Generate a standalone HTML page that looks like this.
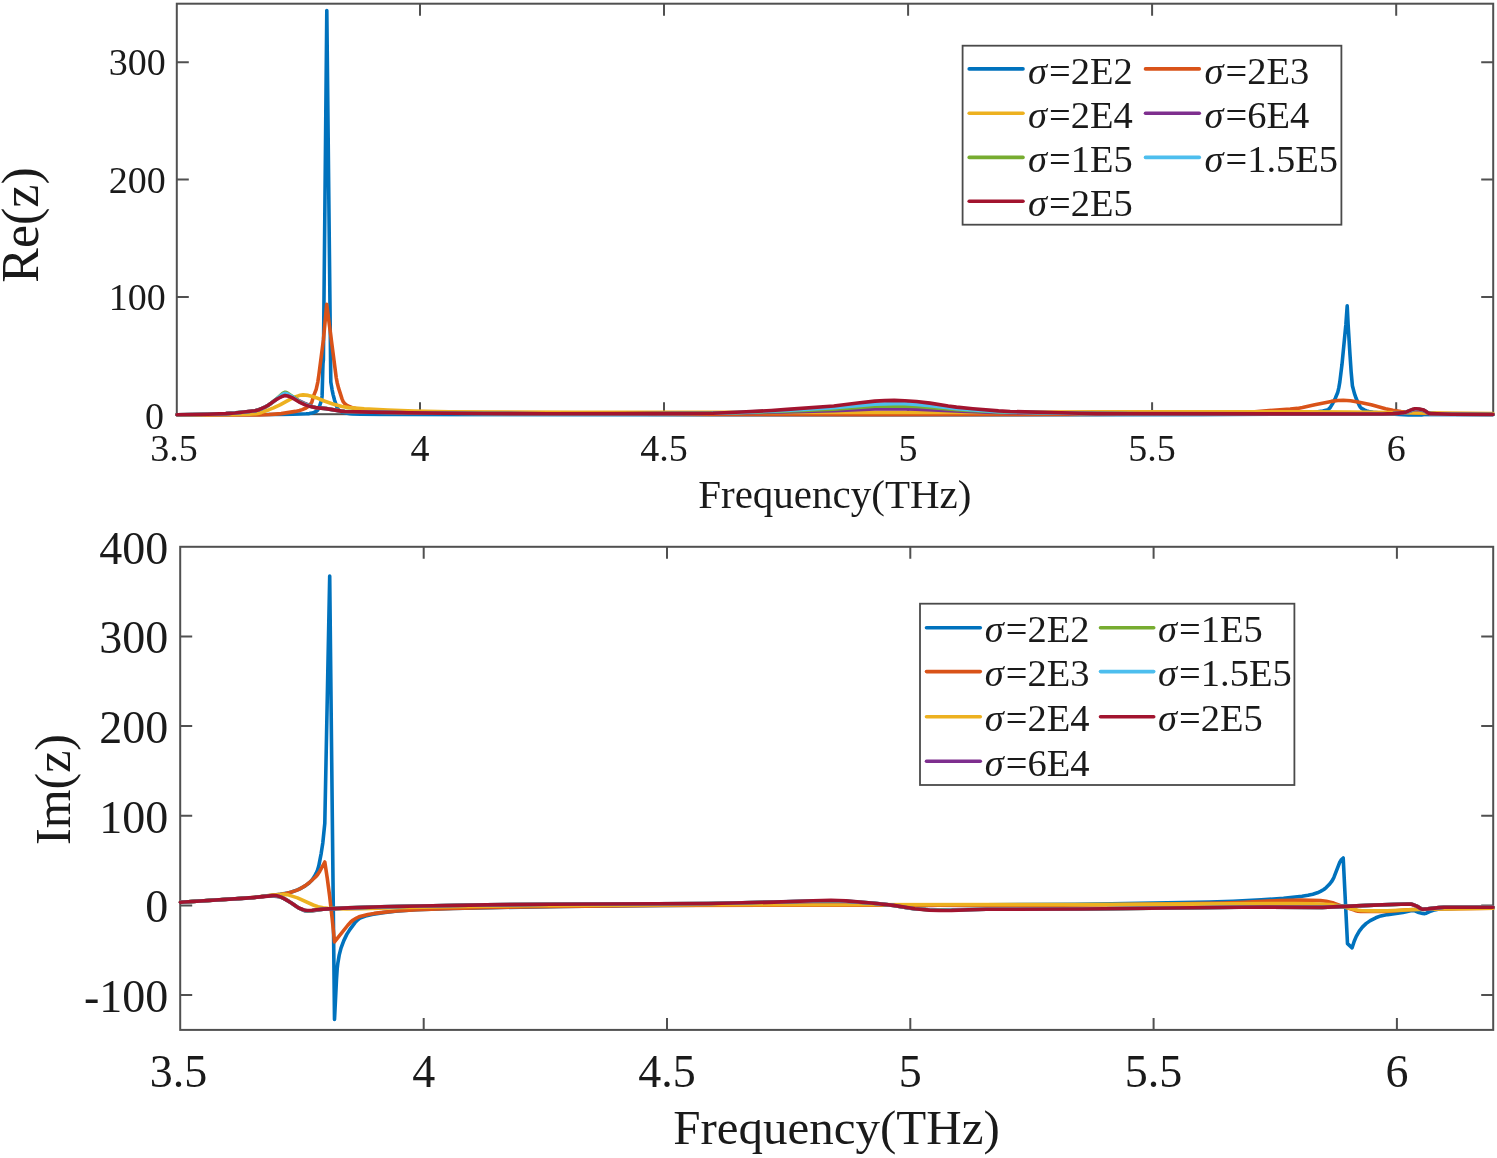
<!DOCTYPE html>
<html><head><meta charset="utf-8"><style>
html,body{margin:0;padding:0;background:#fff;}
svg{display:block;}
#w{}
text{font-family:"Liberation Serif","Times New Roman",serif;fill:#1a1a1a;}
</style></head><body>
<div id="w"><svg width="1497" height="1158" viewBox="0 0 1497 1158">
<rect width="1497" height="1158" fill="#fff"/>
<rect x="176.8" y="3.7" width="1316.4" height="410.5" fill="none" stroke="#505050" stroke-width="2.0"/>
<path d="M420.0 414.2V402.2M420.0 3.7V15.7M664.0 414.2V402.2M664.0 3.7V15.7M908.1 414.2V402.2M908.1 3.7V15.7M1152.1 414.2V402.2M1152.1 3.7V15.7M1396.2 414.2V402.2M1396.2 3.7V15.7M176.8 296.9H188.8M1493.2 296.9H1481.2M176.8 179.6H188.8M1493.2 179.6H1481.2M176.8 62.3H188.8M1493.2 62.3H1481.2" stroke="#505050" stroke-width="2.0" fill="none"/>
<clipPath id="ct"><rect x="174.3" y="1.2" width="1321.4" height="415.5"/></clipPath>
<g clip-path="url(#ct)">
<polyline points="177.0,414.8 283.2,414.5 293.0,414.3 306.2,413.8 309.2,413.6 311.8,413.1 314.0,412.4 316.2,411.3 317.0,410.9 317.8,410.0 319.5,406.3 321.5,400.3 322.1,395.9 322.8,369.2 323.0,363.6 323.4,359.7 326.8,10.5 330.8,382.0 332.1,389.8 333.1,394.6 334.6,400.2 336.6,406.2 337.6,408.6 338.3,409.6 339.8,410.9 341.6,411.7 345.8,413.0 349.8,413.7 352.8,414.0 360.3,414.2 379.8,414.5 457.6,414.7 876.5,415.0 1202.5,414.8 1271.8,414.3 1300.3,413.8 1307.3,413.3 1322.8,411.0 1326.0,410.3 1328.5,409.3 1330.3,407.4 1332.3,404.1 1335.3,398.3 1337.8,392.2 1338.8,387.9 1339.8,382.1 1342.0,364.3 1345.9,324.2 1347.2,305.8 1348.1,324.2 1350.0,354.9 1351.2,372.5 1352.4,385.7 1354.4,393.4 1356.2,398.6 1359.2,405.2 1360.4,407.2 1361.6,408.4 1364.2,409.9 1366.7,411.0 1368.9,411.6 1373.2,412.2 1380.9,413.1 1414.9,415.7 1418.7,415.8 1423.7,414.8 1430.7,414.7 1493.0,414.6" fill="none" stroke="#0072BD" stroke-width="3.60" stroke-linejoin="round" stroke-linecap="round"/>
<polyline points="177.0,414.8 208.0,415.2 250.5,415.3 258.8,415.1 268.8,414.6 281.2,413.6 295.5,411.4 299.5,410.5 302.2,409.6 306.0,408.0 308.2,406.6 310.2,404.6 311.8,402.2 313.6,395.9 316.2,389.3 317.8,382.1 319.0,374.1 323.4,340.0 326.7,304.2 336.2,377.5 337.2,382.7 338.5,387.9 342.0,398.9 343.2,401.7 344.5,403.3 346.5,405.0 349.2,406.5 352.2,407.7 355.8,408.6 361.5,409.6 367.8,410.3 378.5,411.1 390.8,411.7 426.8,412.7 473.0,413.2 546.5,413.7 739.2,414.6 864.2,414.9 1001.2,414.8 1121.0,414.3 1232.8,412.8 1248.8,412.3 1273.2,410.3 1290.2,409.1 1297.5,408.4 1302.5,407.5 1314.8,404.7 1331.2,401.4 1337.8,400.5 1343.2,400.2 1350.5,400.7 1359.2,402.2 1371.2,404.7 1385.5,408.7 1392.8,410.2 1401.0,411.6 1412.2,412.8 1419.5,413.3 1442.2,413.8 1493.0,414.2" fill="none" stroke="#D95319" stroke-width="3.60" stroke-linejoin="round" stroke-linecap="round"/>
<polyline points="177.0,414.8 234.8,414.6 249.2,414.2 256.2,413.8 258.8,413.2 261.5,412.4 269.0,409.7 273.5,407.9 280.0,404.8 290.0,399.3 295.8,396.7 299.0,395.6 301.5,395.1 303.1,394.9 308.2,395.4 311.5,396.2 316.2,397.7 324.2,401.0 332.8,404.0 342.0,406.5 348.8,407.6 364.2,408.9 387.8,410.1 414.2,411.1 448.8,411.9 576.0,412.4 1000.5,412.4 1096.2,411.9 1305.8,411.8 1348.8,412.1 1493.0,413.6" fill="none" stroke="#EDB120" stroke-width="3.60" stroke-linejoin="round" stroke-linecap="round"/>
<polyline points="177.0,414.8 207.2,414.3 225.8,413.6 235.2,413.0 255.2,410.8 257.8,410.1 261.2,408.8 266.0,406.6 269.0,404.7 279.0,397.6 283.0,395.2 284.0,394.7 285.0,394.6 287.2,395.0 291.5,396.6 298.8,400.5 304.2,403.1 312.2,406.5 314.0,407.1 316.0,407.5 325.8,408.5 341.2,411.1 344.8,411.5 358.5,411.9 407.2,412.8 477.2,413.5 543.5,413.8 621.8,413.7 708.0,413.3 784.2,412.0 833.8,410.7 875.0,409.0 894.5,408.7 915.8,409.1 961.2,411.3 994.2,412.4 1009.2,412.7 1101.0,413.6 1380.8,414.0 1391.8,413.7 1403.8,412.9 1406.5,412.3 1413.0,410.0 1416.1,409.5 1419.2,409.8 1423.8,410.7 1428.2,413.1 1430.0,413.6 1451.8,414.2 1493.0,414.5" fill="none" stroke="#7E2F8E" stroke-width="3.60" stroke-linejoin="round" stroke-linecap="round"/>
<polyline points="177.0,414.8 207.5,414.3 226.0,413.6 235.5,412.9 251.8,411.2 255.5,410.7 258.0,410.0 262.0,408.5 267.8,405.6 270.8,403.5 275.2,400.0 283.0,393.2 284.0,392.6 285.0,392.3 286.5,392.6 288.0,393.4 292.5,396.4 297.8,400.4 300.2,401.9 305.8,404.4 313.2,407.1 316.5,407.7 326.5,408.6 343.5,411.4 361.8,412.0 418.0,413.0 520.2,413.7 609.2,413.7 707.2,413.3 737.2,412.7 784.2,411.2 833.8,409.1 875.0,406.3 894.5,405.9 916.5,406.5 930.0,407.5 956.5,409.7 998.5,412.0 1081.2,413.4 1143.2,413.7 1382.5,414.0 1393.0,413.6 1404.0,412.7 1406.5,412.0 1413.0,409.5 1416.1,409.0 1419.2,409.3 1423.8,410.3 1425.0,410.9 1428.2,413.0 1430.0,413.6 1451.8,414.2 1493.0,414.5" fill="none" stroke="#77AC30" stroke-width="3.60" stroke-linejoin="round" stroke-linecap="round"/>
<polyline points="177.0,414.8 207.5,414.3 226.0,413.6 235.5,412.9 251.8,411.2 255.5,410.7 258.0,410.0 261.8,408.6 267.2,405.9 270.8,403.5 282.8,394.3 284.0,393.6 285.0,393.4 286.8,393.7 288.8,394.7 292.5,396.9 298.2,401.0 302.2,403.1 310.0,406.2 314.8,407.5 326.0,408.6 341.2,411.1 344.8,411.5 358.5,411.9 404.8,412.8 475.8,413.5 545.5,413.8 639.2,413.7 711.8,413.3 741.0,412.4 786.5,410.4 833.8,407.8 857.8,405.6 874.8,404.2 894.2,403.6 904.8,403.8 916.5,404.4 930.0,405.7 948.2,407.8 956.5,408.6 972.8,409.9 998.5,411.6 1009.8,412.0 1080.2,413.4 1137.5,413.7 1382.5,414.0 1393.0,413.6 1404.0,412.7 1406.5,412.0 1413.0,409.5 1416.1,409.0 1419.2,409.3 1423.8,410.3 1425.0,410.9 1428.2,413.0 1430.0,413.6 1451.8,414.2 1493.0,414.5" fill="none" stroke="#4DBEEE" stroke-width="3.60" stroke-linejoin="round" stroke-linecap="round"/>
<polyline points="177.0,414.8 207.2,414.3 225.5,413.6 235.0,413.0 255.0,410.8 259.0,409.7 264.8,407.2 268.2,405.2 274.0,401.1 278.0,398.5 282.8,396.2 285.0,395.6 287.8,396.0 292.0,397.6 298.8,401.8 305.2,404.9 310.5,406.6 314.8,407.6 326.0,408.6 341.2,411.1 344.8,411.5 358.8,411.9 409.2,412.9 483.5,413.5 550.0,413.8 651.2,413.6 713.0,413.2 741.5,412.0 771.2,410.5 787.2,409.4 833.8,406.0 857.8,403.0 874.8,401.1 884.8,400.6 894.2,400.4 904.8,400.7 916.5,401.5 930.0,403.1 948.2,406.0 956.5,407.1 972.8,408.7 998.5,410.9 1010.2,411.5 1079.2,413.3 1096.8,413.6 1131.0,413.7 1382.5,414.0 1393.0,413.6 1404.0,412.6 1406.5,411.9 1413.0,409.2 1414.8,408.8 1416.1,408.7 1419.2,409.0 1423.8,410.1 1425.0,410.8 1428.2,413.0 1430.0,413.6 1451.5,414.2 1493.0,414.5" fill="none" stroke="#A2142F" stroke-width="3.60" stroke-linejoin="round" stroke-linecap="round"/>
</g>
<text x="174.1" y="461" font-size="38" text-anchor="middle">3.5</text>
<text x="420.0" y="461" font-size="38" text-anchor="middle">4</text>
<text x="664.0" y="461" font-size="38" text-anchor="middle">4.5</text>
<text x="908.1" y="461" font-size="38" text-anchor="middle">5</text>
<text x="1152.1" y="461" font-size="38" text-anchor="middle">5.5</text>
<text x="1396.2" y="461" font-size="38" text-anchor="middle">6</text>
<text x="164.0" y="428.7" font-size="38" text-anchor="end">0</text>
<text x="165.8" y="310.0" font-size="38" text-anchor="end">100</text>
<text x="165.8" y="192.7" font-size="38" text-anchor="end">200</text>
<text x="165.8" y="75.4" font-size="38" text-anchor="end">300</text>
<text x="834.8" y="508" font-size="41" text-anchor="middle">Frequency(THz)</text>
<text transform="translate(38.3,225.0) rotate(-90)" font-size="52" text-anchor="middle">Re(z)</text>
<rect x="962.6" y="45.7" width="378.8" height="179.0" fill="#fff" stroke="#4a4a4a" stroke-width="1.8"/>
<line x1="969.2" y1="68.9" x2="1023.0" y2="68.9" stroke="#0072BD" stroke-width="3.6" stroke-linecap="round"/>
<text x="1028.1" y="83.5" font-size="38.5"><tspan font-style="italic">σ</tspan><tspan dx="2">=</tspan>2E2</text>
<line x1="1145.5" y1="68.9" x2="1199.3" y2="68.9" stroke="#D95319" stroke-width="3.6" stroke-linecap="round"/>
<text x="1204.5" y="83.5" font-size="38.5"><tspan font-style="italic">σ</tspan><tspan dx="2">=</tspan>2E3</text>
<line x1="969.2" y1="113.3" x2="1023.0" y2="113.3" stroke="#EDB120" stroke-width="3.6" stroke-linecap="round"/>
<text x="1028.1" y="127.9" font-size="38.5"><tspan font-style="italic">σ</tspan><tspan dx="2">=</tspan>2E4</text>
<line x1="1145.5" y1="113.3" x2="1199.3" y2="113.3" stroke="#7E2F8E" stroke-width="3.6" stroke-linecap="round"/>
<text x="1204.5" y="127.9" font-size="38.5"><tspan font-style="italic">σ</tspan><tspan dx="2">=</tspan>6E4</text>
<line x1="969.2" y1="157.4" x2="1023.0" y2="157.4" stroke="#77AC30" stroke-width="3.6" stroke-linecap="round"/>
<text x="1028.1" y="172.0" font-size="38.5"><tspan font-style="italic">σ</tspan><tspan dx="2">=</tspan>1E5</text>
<line x1="1145.5" y1="157.4" x2="1199.3" y2="157.4" stroke="#4DBEEE" stroke-width="3.6" stroke-linecap="round"/>
<text x="1204.5" y="172.0" font-size="38.5"><tspan font-style="italic">σ</tspan><tspan dx="2">=</tspan>1.5E5</text>
<line x1="969.2" y1="201.2" x2="1023.0" y2="201.2" stroke="#A2142F" stroke-width="3.6" stroke-linecap="round"/>
<text x="1028.1" y="215.8" font-size="38.5"><tspan font-style="italic">σ</tspan><tspan dx="2">=</tspan>2E5</text>
<rect x="180.2" y="546.8" width="1313.0" height="483.1" fill="none" stroke="#505050" stroke-width="2.0"/>
<path d="M423.7 1029.9V1017.9M423.7 546.8V558.8M667.0 1029.9V1017.9M667.0 546.8V558.8M910.3 1029.9V1017.9M910.3 546.8V558.8M1153.6 1029.9V1017.9M1153.6 546.8V558.8M1396.9 1029.9V1017.9M1396.9 546.8V558.8M180.2 995.0H192.2M1493.2 995.0H1481.2M180.2 905.4H192.2M1493.2 905.4H1481.2M180.2 815.8H192.2M1493.2 815.8H1481.2M180.2 726.1H192.2M1493.2 726.1H1481.2M180.2 636.5H192.2M1493.2 636.5H1481.2" stroke="#505050" stroke-width="2.0" fill="none"/>
<clipPath id="cb"><rect x="177.7" y="544.3" width="1318.0" height="488.1"/></clipPath>
<g clip-path="url(#cb)">
<polyline points="180.5,902.3 251.0,897.8 280.2,894.3 286.0,893.4 291.5,892.0 297.5,889.9 301.5,888.0 305.5,885.6 309.0,883.0 311.8,880.3 314.2,876.9 316.2,873.2 317.5,870.2 318.8,865.8 321.2,853.3 322.8,842.9 324.8,823.2 329.7,576.0 334.5,1019.5 336.5,979.2 337.2,968.6 337.8,963.5 339.2,955.1 341.0,948.1 343.8,940.6 346.8,934.4 349.8,929.6 355.0,922.6 357.8,919.7 360.0,918.1 365.5,916.0 372.0,914.4 383.2,912.6 395.5,911.2 405.2,910.4 415.8,909.8 453.0,908.4 491.2,907.6 563.8,906.5 631.5,905.7 698.2,905.3 985.2,904.8 1074.5,904.4 1111.2,903.9 1209.2,902.1 1233.0,901.3 1261.2,899.9 1283.5,898.3 1302.0,896.3 1308.0,895.3 1312.8,894.2 1317.4,892.8 1320.5,891.4 1323.8,889.5 1326.2,887.6 1329.2,884.6 1331.5,881.7 1333.0,879.3 1334.0,877.2 1339.8,862.2 1341.5,859.5 1343.2,858.0 1347.5,943.6 1352.1,947.8 1354.3,941.0 1356.3,936.4 1359.3,931.2 1362.6,926.9 1366.3,923.4 1370.3,920.6 1375.8,917.8 1380.8,915.9 1387.6,914.6 1402.9,912.5 1409.6,910.9 1412.3,910.5 1414.3,910.6 1418.8,912.5 1422.6,913.4 1424.8,913.6 1426.3,913.2 1429.6,911.6 1433.3,910.3 1436.8,909.4 1439.6,908.9 1464.8,907.9 1493.0,907.5" fill="none" stroke="#0072BD" stroke-width="3.60" stroke-linejoin="round" stroke-linecap="round"/>
<polyline points="180.5,902.3 240.8,898.5 252.8,897.6 281.5,894.2 285.5,893.5 289.8,892.5 295.8,890.6 300.0,888.8 305.0,885.9 309.2,882.8 315.5,877.0 317.5,874.7 319.8,871.2 324.8,862.0 327.3,878.4 329.6,895.8 332.1,917.7 334.5,941.9 348.0,925.0 350.8,922.0 353.2,920.0 356.5,918.0 359.0,916.8 362.0,915.9 367.8,914.5 374.2,913.4 385.2,912.1 396.5,911.0 418.0,909.7 453.0,908.4 483.0,907.7 558.0,906.5 662.0,905.4 1061.0,905.1 1112.0,904.8 1163.2,904.1 1223.2,903.0 1239.0,902.5 1278.8,900.6 1300.5,900.1 1320.5,900.6 1326.2,901.3 1333.8,903.1 1343.5,906.6 1355.0,910.4 1358.0,911.2 1360.8,911.5 1386.0,911.4 1392.5,911.0 1408.2,909.7 1417.8,909.3 1493.0,908.3" fill="none" stroke="#D95319" stroke-width="3.60" stroke-linejoin="round" stroke-linecap="round"/>
<polyline points="180.5,902.3 247.8,898.0 255.8,897.3 270.5,895.4 279.0,894.6 283.5,894.4 286.0,894.6 288.8,895.1 297.5,897.9 313.2,905.0 318.0,906.7 323.2,907.7 327.8,908.2 337.8,908.7 347.0,909.0 362.2,908.8 396.8,907.6 436.5,906.9 528.8,905.8 617.2,905.1 699.2,904.8 1074.2,904.6 1294.2,903.5 1312.5,903.7 1331.2,904.6 1337.5,905.6 1358.2,910.2 1361.2,910.5 1372.2,910.9 1387.2,910.9 1410.5,909.7 1428.0,909.2 1493.0,908.3" fill="none" stroke="#EDB120" stroke-width="3.60" stroke-linejoin="round" stroke-linecap="round"/>
<polyline points="180.5,902.3 244.0,898.3 254.0,897.5 266.0,896.1 272.0,896.0 279.0,896.8 281.0,897.2 282.8,897.8 286.5,899.8 298.8,908.0 304.2,910.6 306.0,911.2 307.4,911.3 311.8,911.0 322.8,909.2 346.2,908.0 379.5,906.9 419.2,906.0 485.8,904.9 550.5,904.2 706.8,903.5 798.0,901.6 828.2,901.2 846.0,901.5 871.2,903.0 880.2,903.9 893.2,905.4 908.2,908.0 913.5,908.7 926.0,909.4 938.0,909.7 987.5,909.3 1081.0,909.0 1243.0,907.2 1322.0,907.4 1374.2,905.1 1398.2,904.2 1408.5,904.0 1411.0,904.1 1413.5,904.8 1417.0,906.3 1421.0,908.8 1422.5,909.2 1427.8,908.9 1439.0,907.6 1444.0,907.2 1493.0,907.2" fill="none" stroke="#7E2F8E" stroke-width="3.60" stroke-linejoin="round" stroke-linecap="round"/>
<polyline points="180.5,902.3 247.2,898.0 254.2,897.5 267.0,896.0 275.8,896.0 279.5,896.8 283.2,898.1 286.0,899.6 291.8,903.2 298.5,907.9 304.0,910.3 305.8,910.8 307.4,911.0 311.8,910.7 323.0,909.1 347.2,907.9 380.8,906.9 419.5,906.0 486.0,904.9 550.5,904.2 708.2,903.5 809.5,901.2 829.8,900.9 837.8,901.0 846.2,901.3 871.8,903.1 893.2,905.4 908.5,908.0 914.0,908.7 927.8,909.6 938.8,910.0 986.8,909.3 1088.2,908.9 1240.2,907.2 1266.2,907.1 1322.0,907.4 1374.0,905.1 1408.2,904.0 1410.8,904.1 1413.2,904.8 1416.8,906.1 1420.8,908.6 1422.5,909.2 1427.8,908.9 1439.0,907.6 1444.0,907.2 1493.0,907.2" fill="none" stroke="#77AC30" stroke-width="3.60" stroke-linejoin="round" stroke-linecap="round"/>
<polyline points="180.5,902.3 246.5,898.1 254.2,897.5 267.5,896.0 275.8,895.8 277.8,896.2 280.8,897.1 284.2,898.7 291.8,903.2 296.8,906.8 299.0,908.1 304.2,910.3 306.0,910.7 307.4,910.8 311.8,910.5 323.0,909.1 347.8,907.9 381.2,906.9 419.5,906.0 485.8,904.9 550.2,904.2 709.5,903.5 775.8,902.0 813.0,900.9 830.2,900.7 837.8,900.8 846.0,901.1 872.2,903.1 893.5,905.4 908.8,908.0 914.2,908.7 928.8,909.8 939.0,910.2 951.8,910.1 985.8,909.3 1082.0,909.0 1238.5,907.2 1265.5,907.1 1322.2,907.4 1374.0,905.1 1408.2,904.0 1410.8,904.1 1413.2,904.8 1416.8,906.1 1420.8,908.6 1422.5,909.2 1427.8,908.9 1439.0,907.6 1444.0,907.2 1493.0,907.2" fill="none" stroke="#4DBEEE" stroke-width="3.60" stroke-linejoin="round" stroke-linecap="round"/>
<polyline points="180.5,902.3 245.8,898.1 255.0,897.4 273.0,895.6 275.8,895.5 278.5,896.2 282.0,897.6 284.5,898.9 291.8,903.2 296.8,906.8 298.8,908.0 304.0,910.0 307.4,910.5 312.0,910.3 323.2,909.1 348.5,907.9 382.0,906.8 419.8,906.0 486.0,904.9 550.2,904.2 711.5,903.5 773.8,902.1 813.0,900.7 831.0,900.4 838.0,900.5 846.0,900.9 874.0,903.3 893.5,905.4 914.8,908.7 929.5,910.1 939.2,910.5 951.5,910.4 986.2,909.3 1082.2,909.0 1235.2,907.2 1264.8,907.1 1322.2,907.4 1373.8,905.1 1408.0,904.0 1410.8,904.1 1413.2,904.8 1416.8,906.1 1420.8,908.6 1422.5,909.2 1427.8,908.9 1439.0,907.6 1444.0,907.2 1493.0,907.2" fill="none" stroke="#A2142F" stroke-width="3.60" stroke-linejoin="round" stroke-linecap="round"/>
</g>
<text x="178.4" y="1086.5" font-size="46" text-anchor="middle">3.5</text>
<text x="423.7" y="1086.5" font-size="46" text-anchor="middle">4</text>
<text x="667.0" y="1086.5" font-size="46" text-anchor="middle">4.5</text>
<text x="910.3" y="1086.5" font-size="46" text-anchor="middle">5</text>
<text x="1153.6" y="1086.5" font-size="46" text-anchor="middle">5.5</text>
<text x="1396.9" y="1086.5" font-size="46" text-anchor="middle">6</text>
<text x="168.3" y="1011.8" font-size="46" text-anchor="end">-100</text>
<text x="168.3" y="922.1" font-size="46" text-anchor="end">0</text>
<text x="168.3" y="832.5" font-size="46" text-anchor="end">100</text>
<text x="168.3" y="742.8" font-size="46" text-anchor="end">200</text>
<text x="168.3" y="653.2" font-size="46" text-anchor="end">300</text>
<text x="168.3" y="563.5" font-size="46" text-anchor="end">400</text>
<text x="836.5" y="1144" font-size="49" text-anchor="middle">Frequency(THz)</text>
<text transform="translate(69.7,789.5) rotate(-90)" font-size="50" text-anchor="middle">Im(z)</text>
<rect x="920.0" y="603.7" width="374.4" height="181.3" fill="#fff" stroke="#4a4a4a" stroke-width="1.8"/>
<line x1="926.5" y1="627.8" x2="980.3" y2="627.8" stroke="#0072BD" stroke-width="3.6" stroke-linecap="round"/>
<text x="984.8" y="642.4" font-size="38.5"><tspan font-style="italic">σ</tspan><tspan dx="2">=</tspan>2E2</text>
<line x1="926.5" y1="671.6" x2="980.3" y2="671.6" stroke="#D95319" stroke-width="3.6" stroke-linecap="round"/>
<text x="984.8" y="686.2" font-size="38.5"><tspan font-style="italic">σ</tspan><tspan dx="2">=</tspan>2E3</text>
<line x1="926.5" y1="716.8" x2="980.3" y2="716.8" stroke="#EDB120" stroke-width="3.6" stroke-linecap="round"/>
<text x="984.8" y="731.4" font-size="38.5"><tspan font-style="italic">σ</tspan><tspan dx="2">=</tspan>2E4</text>
<line x1="926.5" y1="761.2" x2="980.3" y2="761.2" stroke="#7E2F8E" stroke-width="3.6" stroke-linecap="round"/>
<text x="984.8" y="775.8" font-size="38.5"><tspan font-style="italic">σ</tspan><tspan dx="2">=</tspan>6E4</text>
<line x1="1100.5" y1="627.8" x2="1153.7" y2="627.8" stroke="#77AC30" stroke-width="3.6" stroke-linecap="round"/>
<text x="1158.1" y="642.4" font-size="38.5"><tspan font-style="italic">σ</tspan><tspan dx="2">=</tspan>1E5</text>
<line x1="1100.5" y1="671.6" x2="1153.7" y2="671.6" stroke="#4DBEEE" stroke-width="3.6" stroke-linecap="round"/>
<text x="1158.1" y="686.2" font-size="38.5"><tspan font-style="italic">σ</tspan><tspan dx="2">=</tspan>1.5E5</text>
<line x1="1100.5" y1="716.8" x2="1153.7" y2="716.8" stroke="#A2142F" stroke-width="3.6" stroke-linecap="round"/>
<text x="1158.1" y="731.4" font-size="38.5"><tspan font-style="italic">σ</tspan><tspan dx="2">=</tspan>2E5</text>
</svg></div>
</body></html>
